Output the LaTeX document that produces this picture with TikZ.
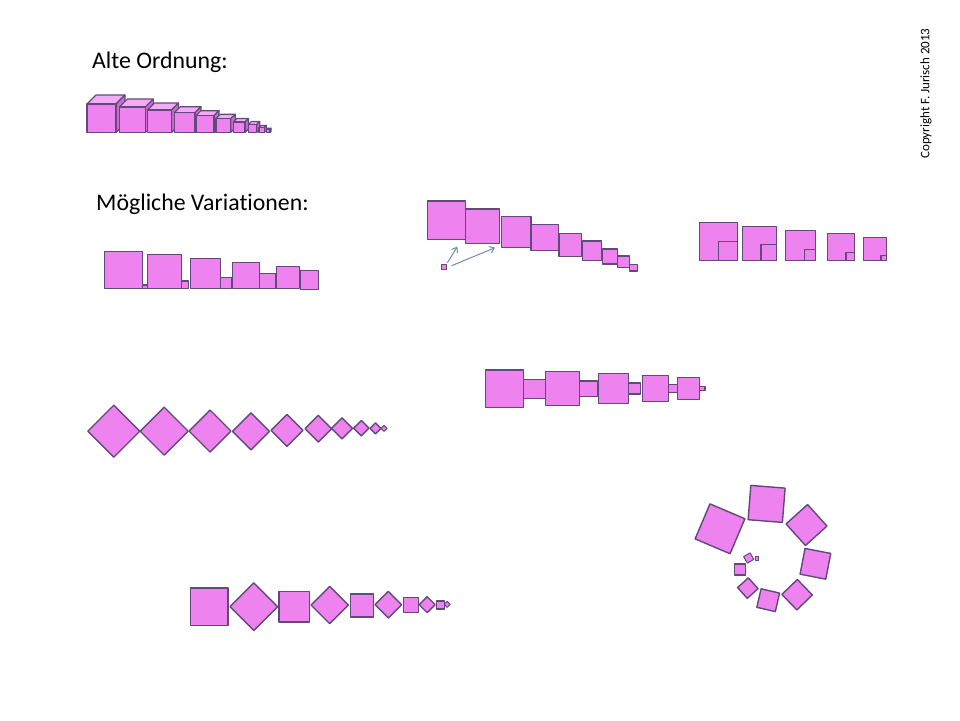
\documentclass[tikz,border=0pt]{standalone}
\usepackage{fontspec}
\setmainfont{Carlito}[Ligatures=NoCommon]
\usetikzlibrary{arrows.meta}
\definecolor{vfill}{RGB}{238,130,238}
\definecolor{vtop}{RGB}{244,170,244}
\definecolor{vside}{RGB}{204,108,204}
\definecolor{vline}{RGB}{96,74,123}
\definecolor{arrc}{RGB}{110,140,180}
\newcommand{\mycube}[5]{% x-left, y-bottom, w, h, depth
  \filldraw[cubestyle,fill=vtop] (#1,#2-#4) -- ++(#5,-#5) -- ++(#3,0) -- ++(-#5,#5) -- cycle;
  \filldraw[cubestyle,fill=vside] (#1+#3,#2) -- ++(#5,-#5) -- ++(0,-#4) -- ++(-#5,#5) -- cycle;
  \filldraw[cubestyle,fill=vfill] (#1,#2) rectangle ++(#3,-#4);}
\begin{document}
\begin{tikzpicture}[x=1pt,y=-1pt,
  sqs/.style={draw=vline,fill=vfill,line width=1.4pt,line join=round},
  cubestyle/.style={draw=vline,line width=1.1pt,line join=round},
  sqn/.style={sqs,inner sep=0pt,outer sep=0pt,shape=rectangle,minimum size=#1},
  dia/.style={sqs,inner sep=0pt,outer sep=0pt,shape=rectangle,rotate=45,minimum size=#1*1.41421},
  arrowst/.style={draw=arrc,line width=1pt,-{Straight Barb[length=4.5pt,width=7pt]}},
  lbl/.style={anchor=base west,inner sep=0pt,font=\fontsize{23.8}{28}\selectfont,text=black}]
\fill[white] (0,0) rectangle (960,720);
\useasboundingbox (0,0) rectangle (960,720);

% labels
\node[lbl] (alt) at (92,68.5) {Alte Ordnung:};
\node[lbl] (var) at (96,210.7) {Mögliche Variationen:};
\node[rotate=90,inner sep=0pt,font=\fontsize{13}{15}\selectfont] (copy) at (926,93.5) {Copyright F. Jurisch 2013};

% cubes (Alte Ordnung)
\mycube{87}{132.5}{29}{28.5}{9}
\mycube{119.3}{132.5}{26}{25.5}{8}
\mycube{147.5}{132.5}{24}{22.5}{7}
\mycube{174.3}{132.5}{20.7}{19.8}{6}
\mycube{196}{132.5}{18}{16.8}{5}
\mycube{216}{132.5}{14.7}{13.8}{4.5}
\mycube{233.3}{132.5}{11.7}{10.5}{3.5}
\mycube{248.3}{132.5}{8.4}{8}{3}
\mycube{259}{132.5}{5.3}{5.2}{2}
\mycube{266.7}{132.5}{3.3}{3.3}{1}

% row 2 left
\draw[sqs] (104.3,251.7) rectangle (142.3,288.3);
\draw[sqs] (142.3,285) rectangle (147.3,288.3);
\draw[sqs] (147.3,254.3) rectangle (181.7,288.3);
\draw[sqs] (181.7,281) rectangle (188.7,288.3);
\draw[sqs] (190.7,258.3) rectangle (220.3,288.3);
\draw[sqs] (220.3,277.3) rectangle (231.7,288.3);
\draw[sqs] (232.3,262.3) rectangle (259.3,288.3);
\draw[sqs] (259.3,273.7) rectangle (276,288.3);
\draw[sqs] (276.7,266.7) rectangle (299.3,288.3);
\draw[sqs] (300.3,270.3) rectangle (318.3,289.3);

% middle top descending
\draw[sqs] (427.3,201) rectangle (465.7,239.3);
\draw[sqs] (465.7,209) rectangle (499.7,243.3);
\draw[sqs] (501.3,216.3) rectangle (531,247.3);
\draw[sqs] (531,224.3) rectangle (558.3,250.3);
\draw[sqs] (559,233.3) rectangle (581.7,256.3);
\draw[sqs] (582.3,241) rectangle (601.7,260.3);
\draw[sqs] (602.3,249) rectangle (617.3,264);
\draw[sqs] (617.3,256) rectangle (629.3,267.3);
\draw[sqs] (629.3,264.3) rectangle (637.3,271);
\node[sqn=4.7pt,line width=1pt] (sm) at (444.3,267.3) {};
\coordinate (a1) at (457.3,246.7);
\coordinate (a2) at (495,247.7);
\draw[arrowst] (sm.north east) ++(0.8,-2.2) -- (a1);
\draw[arrowst] (sm.east) ++(5,-1.6) -- (a2);

% right top nested
\draw[sqs] (699.3,222.3) rectangle (737.3,260.3);
\draw[sqs] (718.3,241.3) rectangle (737.3,260.3);
\draw[sqs] (742.3,226.3) rectangle (776.7,260.3);
\draw[sqs] (761,244.5) rectangle (776.7,260.3);
\draw[sqs] (785.7,230.3) rectangle (815.3,260.3);
\draw[sqs] (804.3,249.3) rectangle (815.3,260.3);
\draw[sqs] (827.7,233.3) rectangle (854.3,260.3);
\draw[sqs] (846,252.3) rectangle (854.3,260.3);
\draw[sqs] (863.3,237.3) rectangle (886.3,260.3);
\draw[sqs] (880.9,255.2) rectangle (886.3,260.3);

% middle row alternating
\draw[sqs] (485.3,370) rectangle (523.3,407.3);
\draw[sqs] (523.3,379.3) rectangle (545.3,398.3);
\draw[sqs] (545.3,371.3) rectangle (579.3,405.3);
\draw[sqs] (579.3,380.8) rectangle (597.3,396.7);
\draw[sqs] (598.3,373.5) rectangle (628.3,403.5);
\draw[sqs] (628.3,383) rectangle (640.7,394);
\draw[sqs] (642.3,375.5) rectangle (668.7,401.7);
\draw[sqs] (668.7,384.5) rectangle (677.3,392.5);
\draw[sqs] (677.3,377.3) rectangle (699.3,399.3);
\draw[sqs] (699.3,386.6) rectangle (705,390.3);

% diamonds row
\node[dia=26pt] (d1) at (113.8,431.2) {};
\node[dia=24pt] (d2) at (164.2,431.2) {};
\node[dia=21pt] (d3) at (210,431) {};
\node[dia=18.5pt] (d4) at (251,431.3) {};
\node[dia=16pt] (d5) at (287,430.3) {};
\node[dia=13.3pt] (d6) at (318.3,428.7) {};
\node[dia=10.5pt] (d7) at (342,428.3) {};
\node[dia=7.7pt] (d8) at (361.3,428.2) {};
\node[dia=5.5pt] (d9) at (375.5,428.3) {};
\node[dia=3pt,line width=1pt] (d10) at (384,428.3) {};

% spiral
\node[sqn=38pt,rotate=-23] (s1) at (720,528.8) {};
\node[sqn=34.4pt,rotate=-4.5] (s2) at (766.6,503.9) {};
\node[sqn=29pt,rotate=42] (s3) at (806.5,525) {};
\node[sqn=26.2pt,rotate=-11] (s4) at (815.4,563.8) {};
\node[sqn=21.5pt,rotate=44] (s5) at (797.1,594.7) {};
\node[sqn=19pt,rotate=-13] (s6) at (768.2,600.2) {};
\node[sqn=14.5pt,rotate=42] (s7) at (747.8,588.1) {};
\node[sqn=11pt] (s8) at (740,569.5) {};
\node[sqn=7.5pt,rotate=30,line width=1pt] (s9) at (748.7,558) {};
\node[sqn=3.4pt,line width=0.9pt] (s10) at (756.8,558.5) {};

% bottom mixed row
\node[sqn=37.5pt] (b1) at (209.2,606.7) {};
\node[dia=23.8pt] (b2) at (253.8,606.7) {};
\node[sqn=30.5pt] (b3) at (294.3,606.8) {};
\node[dia=18.7pt] (b4) at (329.7,605) {};
\node[sqn=23pt] (b5) at (361.8,605.5) {};
\node[dia=13.3pt] (b6) at (388.3,604.7) {};
\node[sqn=15pt] (b7) at (410.8,604.8) {};
\node[dia=8pt] (b8) at (427.2,604.7) {};
\node[sqn=8pt] (b9) at (440.2,605) {};
\node[dia=3pt,line width=1pt] (b10) at (447.2,604.3) {};
\end{tikzpicture}
\end{document}
